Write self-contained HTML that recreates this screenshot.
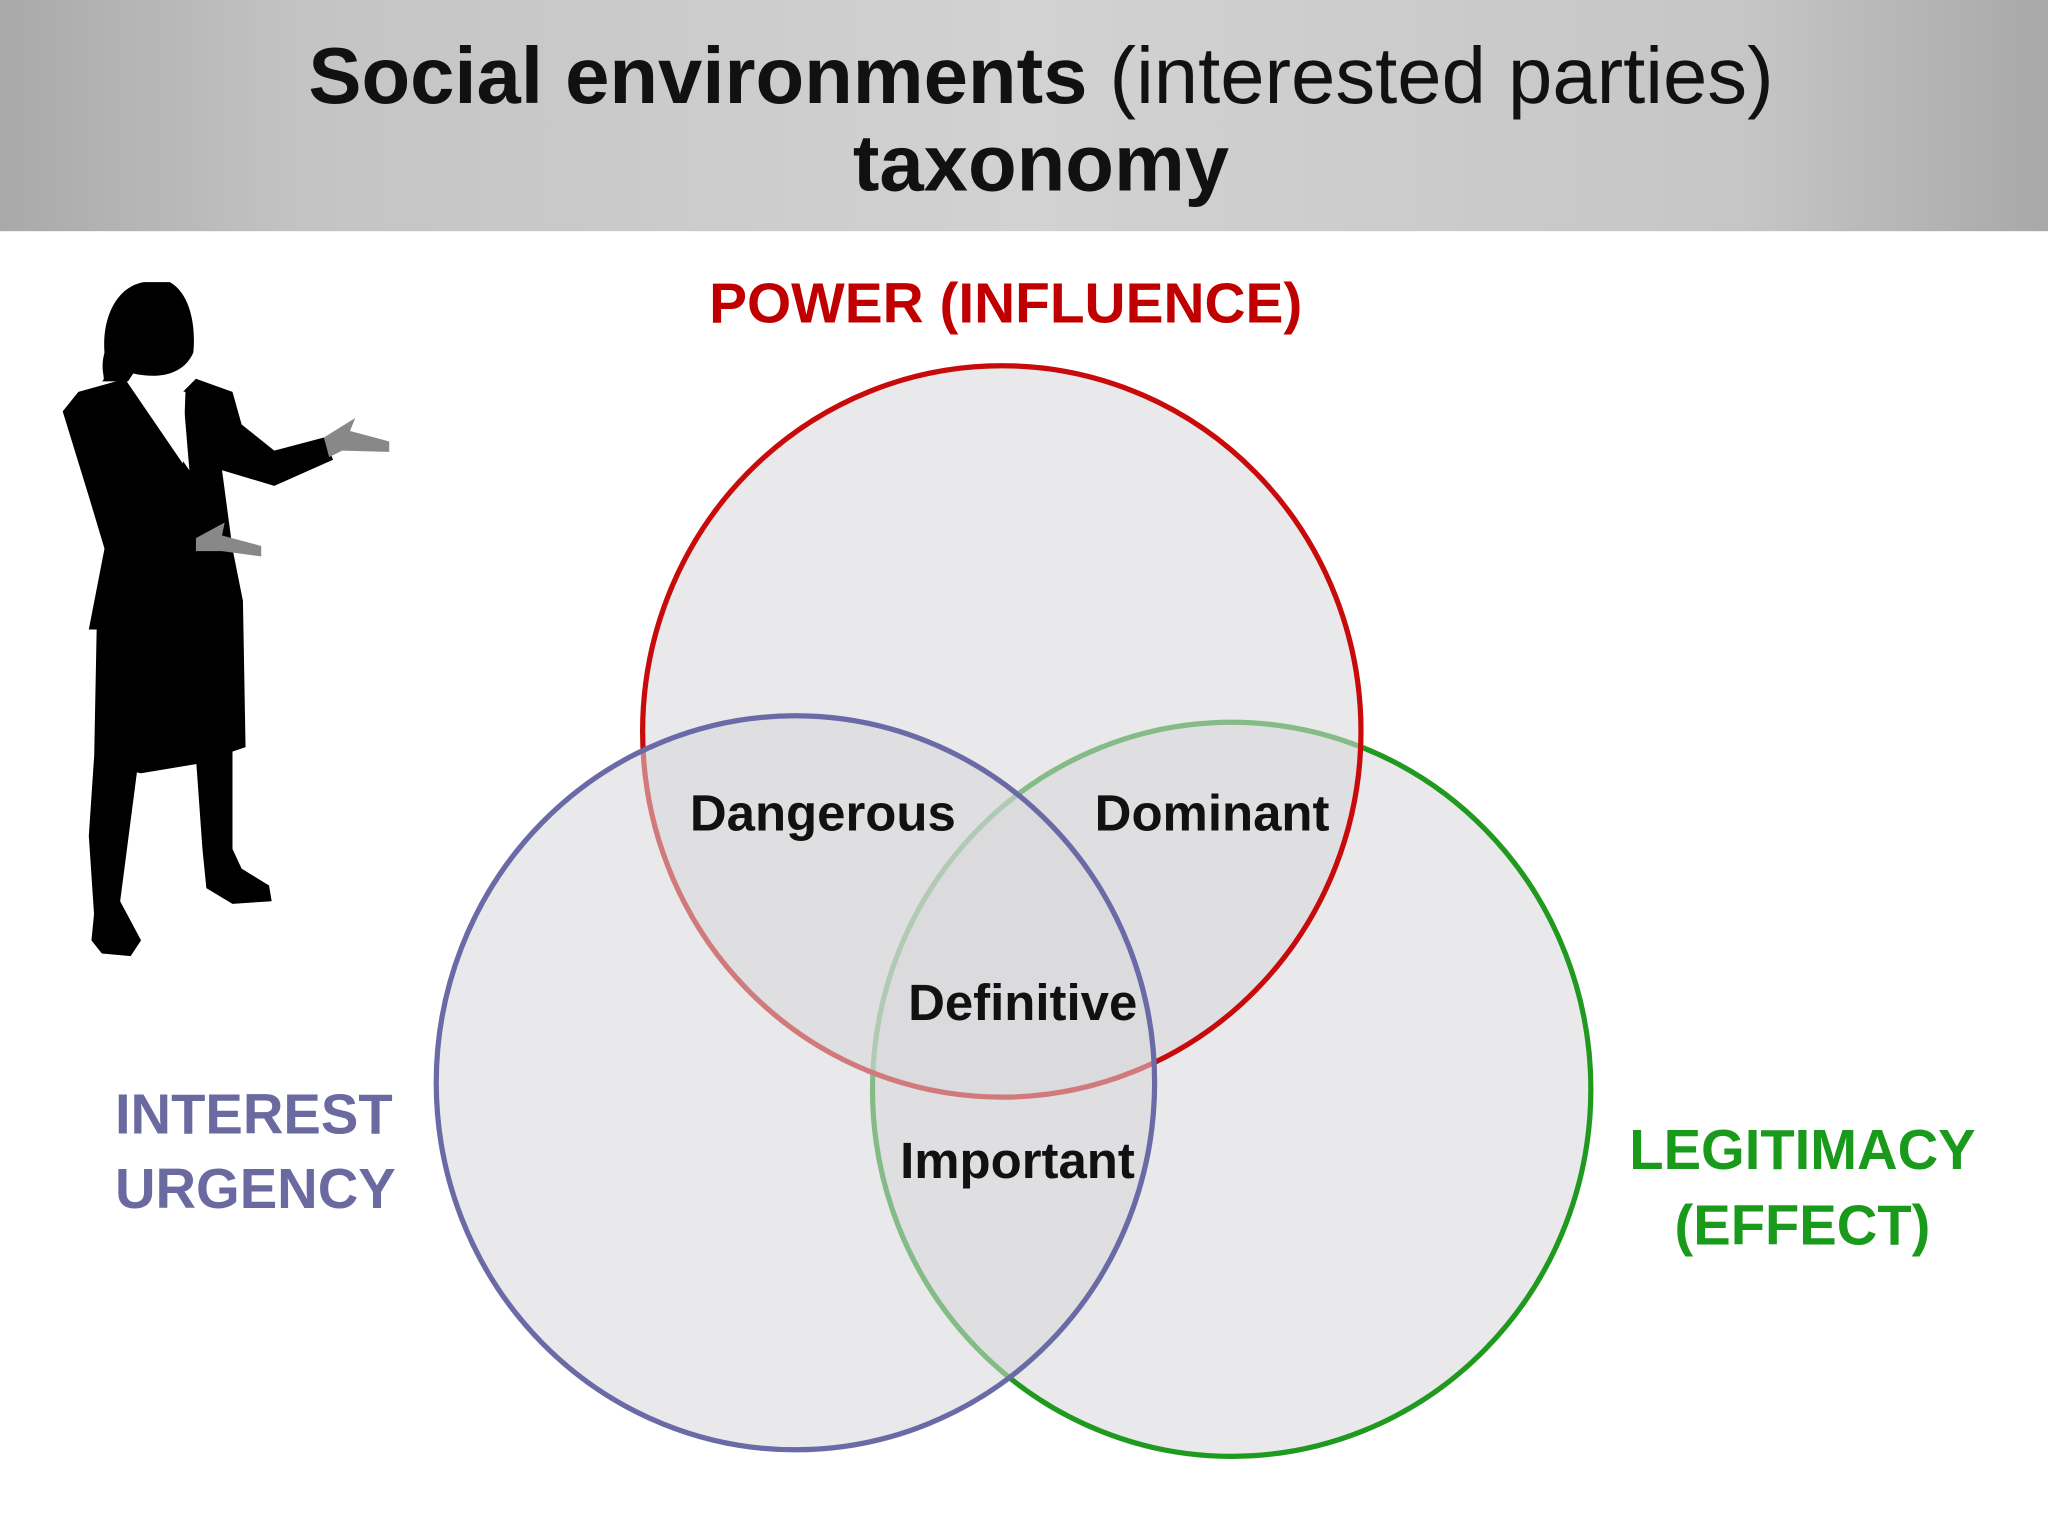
<!DOCTYPE html>
<html><head><meta charset="utf-8"><style>
html,body{margin:0;padding:0;background:#fff;}
svg{display:block;}
text{font-family:"Liberation Sans",Arial,sans-serif;}
</style></head><body>
<svg width="2048" height="1536" viewBox="0 0 1568 1176" xmlns="http://www.w3.org/2000/svg">
<defs>
<linearGradient id="hdr" x1="0" y1="0" x2="1" y2="0">
<stop offset="0" stop-color="#a9a9a9"/><stop offset="0.15" stop-color="#c4c4c4"/>
<stop offset="0.5" stop-color="#d2d2d2"/><stop offset="0.85" stop-color="#c6c6c6"/><stop offset="1" stop-color="#a8a8a8"/>
</linearGradient>
</defs>
<rect x="0" y="0" width="1568" height="1176" fill="#fff"/>
<rect x="0" y="0" width="1568" height="177" fill="url(#hdr)"/>
<text x="797" y="79" text-anchor="middle" font-size="61" fill="#111"><tspan font-weight="bold">Social environments</tspan> (interested parties)</text>
<text x="797" y="146" text-anchor="middle" font-size="61" font-weight="bold" fill="#111">taxonomy</text>

<text x="770" y="247" text-anchor="middle" font-size="43.5" font-weight="bold" fill="#c00000">POWER (INFLUENCE)</text>

<g fill="rgba(215,215,218,0.55)" stroke-width="4">
<ellipse cx="943" cy="834" rx="275" ry="281" stroke="#1f9a1f"/>
<ellipse cx="767" cy="560" rx="275" ry="280" stroke="#c80a0a"/>
<ellipse cx="609" cy="829" rx="275" ry="281" stroke="#6a6aa6"/>
</g>

<g font-size="39" font-weight="bold" fill="#111" text-anchor="middle">
<text x="630" y="636">Dangerous</text>
<text x="928" y="636">Dominant</text>
<text x="783" y="781">Definitive</text>
<text x="779" y="902">Important</text>
</g>

<g font-size="43" font-weight="bold" fill="#6a6aa0">
<text x="88" y="868">INTEREST</text>
<text x="88" y="925">URGENCY</text>
</g>
<g font-size="43" font-weight="bold" fill="#1a9a1a" text-anchor="middle">
<text x="1380" y="895">LEGITIMACY</text>
<text x="1380" y="953">(EFFECT)</text>
</g>

<g fill="#000">
<path d="M110 216 C88 220 78 245 80 270 C76 285 82 290 78 292 L98 292 L102 286 C120 290 140 288 148 270 C150 250 146 225 130 216 Z"/>
<path d="M96 290 L60 300 L48 315 L68 380 L80 420 L68 482 L74 482 L72 585 L108 592 L150 585 L188 572 L186 460 L178 420 L170 360 L210 372 L255 352 L248 335 L210 345 L185 325 L178 300 L150 290 L140 300 L145 360 Z"/>
<path d="M72 580 L68 640 L72 700 L70 720 L78 730 L100 732 L108 720 L92 690 L105 590 Z"/>
<path d="M150 580 L155 650 L158 680 L178 692 L208 690 L206 678 L185 665 L178 650 L178 575 Z"/>
</g>
<path d="M97 292 L140 355 L142 300 Z" fill="#fff"/>
<g fill="#888">
<path d="M248 335 L272 320 L268 330 L298 338 L298 346 L262 345 L252 350 Z"/>
<path d="M150 412 L172 400 L170 410 L200 418 L200 426 L170 422 L150 422 Z"/>
</g>
</svg>
</body></html>
